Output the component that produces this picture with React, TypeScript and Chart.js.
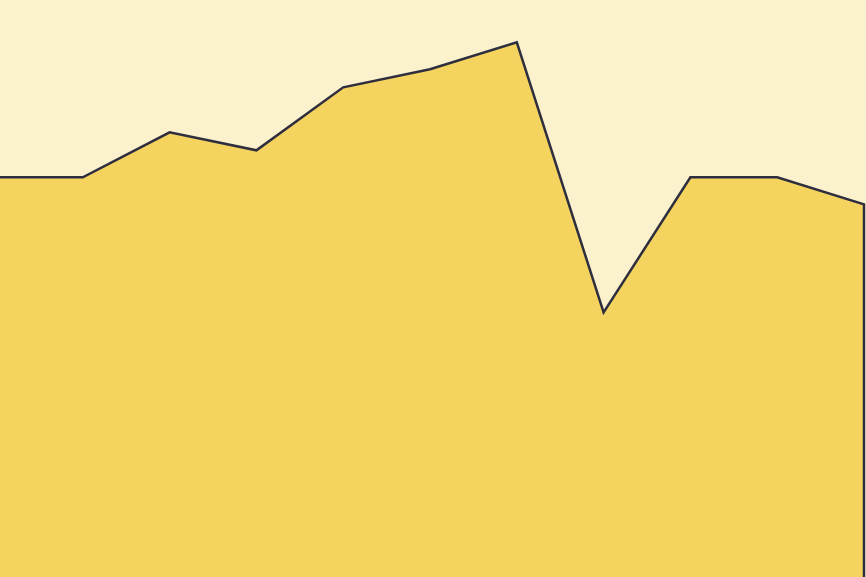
import React, { useEffect, useRef } from 'react';
import Chart from 'chart.js/auto';

const positions = [0, 1, 2, 3, 4, 5, 6, 7, 8, 9, 10];
const values = [40, 40, 45, 43, 50, 52, 55, 25, 40, 40, 37];
const yMin = -4.4;
const yMax = 59.7;

const App: React.FC = () => {
  const canvasRef = useRef<HTMLCanvasElement>(null);

  useEffect(() => {
    document.body.style.margin = '0';
    document.body.style.background = '#FBF1CC';
    if (!canvasRef.current) return;

    const points = positions.map((x, i) => ({ x, y: values[i] }));
    // closing edge down the right side
    points.push({ x: positions[positions.length - 1], y: yMin });

    const chart = new Chart(canvasRef.current, {
      type: 'line',
      data: {
        datasets: [{
          data: points,
          fill: 'start',
          backgroundColor: '#F4D35E',
          borderColor: '#2E2E3E',
          borderWidth: 2.5,
          pointRadius: 0,
          tension: 0
        }]
      },
      options: {
        responsive: false,
        animation: false,
        layout: { padding: 0 },
        plugins: {
          legend: { display: false },
          tooltip: { enabled: false }
        },
        scales: {
          x: { type: 'linear', display: false, min: 0.046, max: 10.023 },
          y: { display: false, min: yMin, max: yMax }
        }
      }
    });

    return () => chart.destroy();
  }, []);

  return (
    <div style={{ width: 866, height: 577, background: '#FBF1CC' }}>
      <canvas ref={canvasRef} width={866} height={577} style={{ display: 'block' }}></canvas>
    </div>
  );
};

export default App;
